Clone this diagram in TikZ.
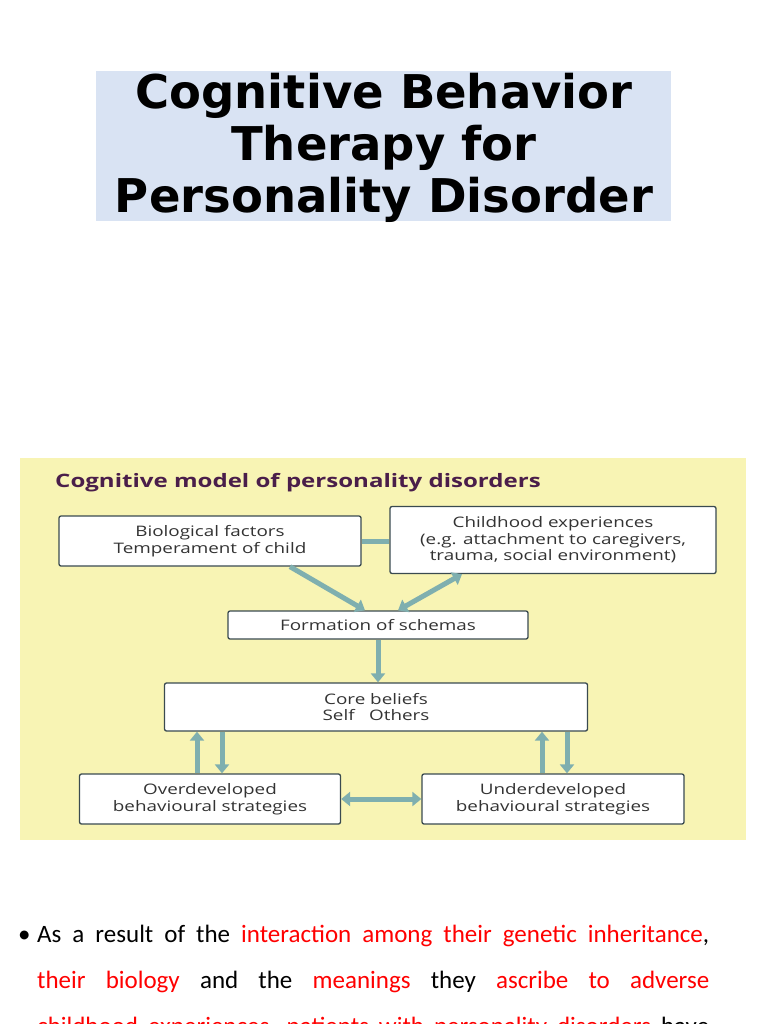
\documentclass[tikz,border=0pt]{standalone}
\usepackage{fontspec}
\setmainfont{Carlito}
\newfontfamily\titlefont{DejaVu Sans}
\newfontfamily\diagfont[FakeStretch=1.3]{Open Sans}
\usetikzlibrary{arrows.meta}
\definecolor{titlebg}{HTML}{D9E3F3}
\definecolor{panel}{HTML}{F8F4B4}
\definecolor{teal}{HTML}{7FAFAF}
\definecolor{boxline}{HTML}{3A4A50}
\definecolor{purp}{HTML}{4A1E4A}
\definecolor{redt}{HTML}{FF0000}
\tikzset{
 box/.style={draw=boxline,line width=1.3pt,fill=white,rounded corners=2pt,inner sep=0,font=\diagfont\fontsize{14.5}{16.5}\selectfont,text=black!80,align=center},
 conn/.style={draw=teal,line width=5pt,-{Triangle[length=9pt,width=14pt]}},
 conn2/.style={draw=teal,line width=5pt,{Triangle[length=9pt,width=14pt]}-{Triangle[length=9pt,width=14pt]}},
 body/.style={anchor=base west,inner sep=0,font=\fontsize{25}{28}\selectfont}
}
\begin{document}
\begin{tikzpicture}[x=1pt,y=-1pt]
\useasboundingbox (0,0) rectangle (768,1024);
\clip (0,0) rectangle (768,1024);
\fill[white] (0,0) rectangle (768,1024);
\fill[titlebg] (96,71) rectangle (671,221);
\node[font=\titlefont\bfseries\fontsize{46.5}{52}\selectfont,align=center] (title) at (384,148) {Cognitive Behavior\\Therapy for\\Personality Disorder};
\fill[panel] (20,458) rectangle (746,840);
\node[anchor=west,inner sep=0,font=\diagfont\bfseries\fontsize{18.5}{20}\selectfont,text=purp] (dt) at (55,483) {Cognitive model of personality disorders};
\node[box,minimum width=302pt,minimum height=50pt] (bio) at (210,541) {Biological factors\\Temperament of child};
\node[box,minimum width=326pt,minimum height=67pt] (child) at (553,540) {Childhood experiences\\(e.g. attachment to caregivers,\\trauma, social environment)};
\node[box,minimum width=300pt,minimum height=28pt] (form) at (378,625) {Formation of schemas};
\node[box,minimum width=423pt,minimum height=48pt] (core) at (376,707) {Core beliefs\\Self\quad Others};
\node[box,minimum width=261pt,minimum height=50pt] (over) at (210,799) {Overdeveloped\\behavioural strategies};
\node[box,minimum width=262pt,minimum height=50pt] (under) at (553,799) {Underdeveloped\\behavioural strategies};
\draw[teal,line width=5pt] (bio.east |- 0,541) -- (child.west |- 0,541);
\draw[conn] (bio.south -| 290,0) -- (form.north -| 365,0);
\draw[conn2] (child.south -| 462,0) -- (form.north -| 398,0);
\draw[conn] (form.south -| 378,0) -- (core.north -| 378,0);
\draw[conn] (over.north -| 197,0) -- (core.south -| 197,0);
\draw[conn] (core.south -| 222,0) -- (over.north -| 222,0);
\draw[conn] (under.north -| 542,0) -- (core.south -| 542,0);
\draw[conn] (core.south -| 567,0) -- (under.north -| 567,0);
\draw[conn2] (over.east) -- (under.west);
\node[body] (bul) at (18,942) {•};
\node[body] (l1) at (37,942) {\makebox[672pt][s]{As a result of the \textcolor{redt}{interaction among their genetic inheritance},}};
\node[body] (l2) at (37,988) {\makebox[672pt][s]{\textcolor{redt}{their biology} and the \textcolor{redt}{meanings} they \textcolor{redt}{ascribe to adverse}}};
\node[body] (l3) at (37,1034) {\makebox[672pt][s]{\textcolor{redt}{childhood experiences, patients with personality disorders} have}};
\end{tikzpicture}
\end{document}
